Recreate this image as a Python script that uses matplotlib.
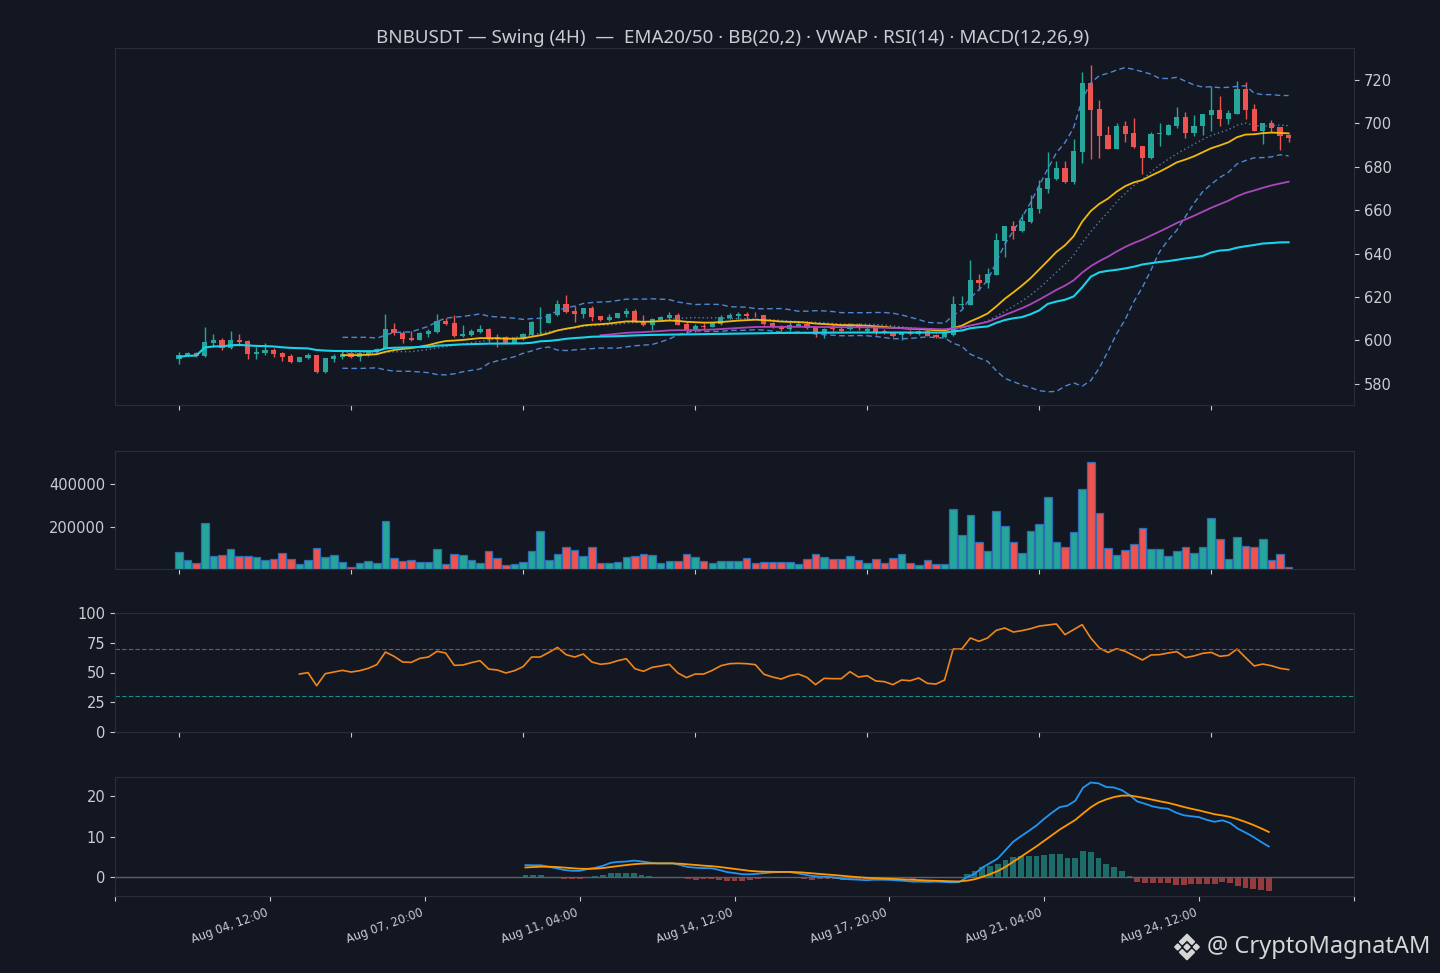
import numpy as np
import pandas as pd
import matplotlib
matplotlib.use("Agg")
import matplotlib.pyplot as plt
import matplotlib.dates as mdates
from matplotlib.patches import Polygon
from datetime import datetime, timedelta

# --- OHLCV (4H candles) ---
opens = [591.6, 593.2, 594.3, 592.9, 598.7, 600.2, 596.6, 600.2, 599.8, 594.0,
         594.3, 595.6, 594.3, 593.0, 590.1, 592.0, 593.3, 585.5, 591.3, 592.4,
         594.1, 592.4, 593.6, 594.7, 596.2, 605.3, 603.6, 601.2, 600.2, 603.0,
         603.9, 609.0, 608.1, 602.1, 602.5, 603.9, 605.3, 601.5, 601.5, 599.0,
         600.7, 602.5, 608.3, 608.2, 611.8, 616.8, 613.6, 612.2, 615.0, 611.3,
         609.5, 610.4, 612.4, 613.6, 609.0, 607.1, 609.5, 610.4, 611.8, 607.6,
         604.9, 606.7, 606.2, 607.6, 610.4, 611.3, 612.2, 611.9, 611.8, 608.1,
         606.7, 605.3, 606.7, 607.6, 606.2, 603.5, 606.2, 605.3, 605.3, 607.1,
         604.4, 606.2, 604.4, 603.5, 602.5, 603.9, 603.0, 604.4, 602.5, 601.6,
         602.5, 616.5, 616.4, 627.9, 626.5, 630.2, 645.8, 652.7, 650.4, 654.6,
         660.6, 669.8, 674.4, 679.5, 673.0, 686.8, 718.6, 706.6, 694.6, 688.2,
         698.8, 695.6, 689.6, 684.1, 695.0, 694.6, 698.8, 703.0, 695.6, 698.8,
         703.9, 706.2, 702.0, 704.3, 715.9, 706.6, 696.5, 700.2, 698.3, 694.7]
highs = [594.9, 594.7, 594.7, 606.2, 602.8, 601.0, 604.2, 602.8, 600.2, 597.2,
         598.7, 596.4, 594.7, 593.6, 592.6, 594.4, 593.5, 592.1, 593.6, 595.3,
         594.9, 594.9, 595.3, 596.7, 612.2, 607.9, 604.5, 604.5, 604.1, 605.1,
         612.2, 610.2, 611.6, 607.0, 605.1, 607.0, 605.8, 603.0, 602.1, 601.8,
         603.6, 609.0, 615.3, 612.8, 618.4, 621.0, 616.0, 615.1, 615.9, 611.4,
         612.1, 612.8, 615.0, 614.4, 611.8, 610.4, 611.3, 613.1, 612.7, 608.5,
         607.6, 608.1, 608.6, 611.8, 612.7, 613.1, 613.1, 613.0, 611.9, 608.5,
         607.1, 608.5, 608.5, 608.5, 606.3, 605.8, 607.6, 606.4, 608.1, 608.1,
         606.2, 606.7, 605.3, 604.1, 604.1, 604.9, 604.9, 604.9, 603.0, 604.4,
         620.5, 620.5, 637.1, 630.6, 633.4, 649.5, 652.8, 655.0, 658.3, 667.0,
         673.9, 686.8, 682.7, 682.7, 692.8, 723.7, 726.9, 710.8, 698.8, 700.2,
         701.1, 702.5, 689.7, 696.0, 700.2, 699.4, 707.6, 705.3, 703.9, 704.4,
         716.9, 712.6, 706.2, 719.5, 719.1, 708.9, 700.3, 701.6, 698.4, 694.8]
lows = [589.2, 592.7, 592.6, 592.6, 597.2, 595.5, 596.0, 597.5, 591.6, 591.6,
        593.5, 592.6, 590.7, 589.8, 589.9, 591.6, 585.2, 585.2, 590.3, 591.3,
        592.1, 590.6, 592.7, 594.4, 596.0, 602.5, 599.0, 599.9, 600.1, 601.8,
        603.3, 607.3, 601.8, 601.5, 602.1, 603.6, 599.5, 597.2, 598.2, 598.7,
        600.4, 602.2, 603.0, 607.9, 611.3, 612.5, 608.7, 610.2, 609.0, 609.0,
        609.0, 610.3, 610.8, 608.4, 606.7, 604.9, 609.0, 609.9, 607.0, 603.3,
        603.8, 604.9, 606.1, 607.1, 609.9, 609.9, 609.9, 610.7, 607.3, 605.9,
        604.4, 604.4, 606.4, 605.3, 601.5, 601.0, 604.5, 603.9, 604.9, 604.9,
        603.9, 602.5, 603.0, 601.8, 600.2, 602.7, 602.5, 602.0, 601.3, 601.3,
        602.2, 614.5, 616.3, 623.3, 624.2, 630.1, 638.5, 646.8, 650.0, 654.1,
        658.7, 667.9, 673.9, 672.5, 672.1, 681.8, 683.6, 684.1, 688.1, 688.1,
        691.4, 688.7, 676.7, 683.6, 689.6, 694.5, 697.9, 693.3, 694.2, 694.7,
        696.5, 698.8, 699.7, 704.2, 702.0, 696.4, 690.5, 696.0, 687.8, 691.4]
closes = [593.2, 594.3, 593.0, 599.3, 600.2, 596.6, 600.2, 599.2, 593.8, 594.9,
          595.6, 593.8, 592.4, 590.1, 592.4, 593.3, 585.5, 592.0, 592.9, 593.9,
          592.4, 594.1, 594.7, 596.2, 605.3, 603.3, 600.7, 600.2, 603.6, 604.5,
          609.0, 607.6, 602.1, 603.0, 604.4, 605.3, 600.7, 600.7, 598.7, 601.0,
          602.8, 608.5, 608.6, 612.2, 616.8, 613.1, 612.2, 615.0, 610.8, 609.5,
          610.8, 612.7, 613.6, 608.5, 607.1, 609.9, 610.8, 611.8, 607.1, 604.9,
          606.7, 606.2, 608.5, 610.8, 611.8, 612.2, 611.3, 611.6, 607.6, 606.2,
          605.3, 607.1, 607.6, 605.8, 603.9, 605.3, 605.3, 604.5, 607.1, 605.8,
          605.3, 603.9, 603.5, 602.2, 603.9, 603.0, 604.4, 602.1, 601.6, 603.5,
          616.8, 616.8, 627.9, 626.5, 630.6, 646.3, 652.7, 650.4, 655.0, 661.0,
          670.2, 674.9, 679.5, 673.0, 687.3, 718.6, 706.2, 694.2, 688.2, 698.8,
          695.1, 689.1, 684.1, 695.1, 695.3, 699.3, 703.0, 695.6, 698.8, 704.3,
          706.2, 702.0, 704.8, 715.9, 706.2, 696.5, 700.2, 697.9, 694.2, 693.3]
volumes = [79700, 42000, 28000, 215600, 61000, 65600, 93800, 61000, 61000, 56000,
           42000, 47000, 75000, 47000, 23000, 42000, 98000, 56000, 65600, 33000,
           9400, 28000, 37500, 28000, 225000, 51600, 37500, 42000, 33000, 33000,
           93800, 23000, 70000, 65600, 42000, 28000, 84000, 51600, 18800, 23000,
           33000, 84000, 178000, 42000, 70000, 103000, 89000, 61000, 103000, 28000,
           28000, 33000, 56000, 61000, 70000, 65600, 28000, 37500, 37500, 70000,
           56000, 37500, 28000, 37500, 37500, 37500, 51600, 28000, 33000, 33000,
           33000, 33000, 23000, 47000, 70000, 56000, 47000, 47000, 61000, 42000,
           28000, 47000, 28000, 51600, 70000, 28000, 18800, 42000, 23000, 23000,
           286000, 159000, 253000, 126600, 84000, 276600, 201600, 126600, 75000, 178000,
           211000, 342000, 126600, 103000, 173000, 380000, 506000, 262500, 98000, 65600,
           89000, 117000, 192000, 93800, 93800, 61000, 84000, 103000, 75000, 103000,
           239000, 140600, 47000, 150000, 108000, 103000, 140600, 42000, 70000, 9400]
# RSI(14), first value at candle 14
rsi_read = [48.7, 49.9, 38.9, 49.0, 50.4, 51.8, 50.4, 51.5, 53.5, 56.6,
            67.2, 63.6, 58.8, 58.5, 61.9, 63.0, 67.8, 66.4, 56.0, 56.3,
            58.3, 59.9, 52.9, 52.1, 49.6, 51.5, 54.9, 63.0, 63.0, 66.9,
            71.1, 65.0, 63.0, 65.5, 58.8, 56.9, 57.7, 59.9, 61.6, 53.2,
            51.0, 54.3, 55.5, 56.9, 49.6, 45.7, 48.7, 48.7, 51.8, 55.7,
            57.4, 57.7, 57.4, 56.6, 48.5, 46.2, 44.5, 47.3, 48.7, 45.9,
            39.8, 45.1, 44.8, 44.8, 50.7, 46.2, 47.3, 42.9, 42.3, 39.8,
            43.7, 43.1, 45.4, 40.9, 40.3, 43.7, 69.7, 69.7, 79.0, 76.2,
            79.0, 85.4, 87.4, 84.0, 85.2, 86.8, 89.0, 89.9, 90.8, 81.8,
            86.0, 90.2, 79.0, 70.6, 66.9, 70.0, 67.8, 64.1, 60.5, 64.7,
            65.0, 66.4, 67.5, 62.5, 63.9, 66.1, 66.9, 63.6, 64.4, 69.7,
            62.5, 55.5, 57.1, 55.7, 53.5, 52.4]
rsi_start = 14
first_candle = datetime(2025, 8, 4, 12, 0)

title = "BNBUSDT — Swing (4H)  —  EMA20/50 · BB(20,2) · VWAP · RSI(14) · MACD(12,26,9)"

BG = "#131722"
SPINE = "#2a2e39"
TXT = "#c9ccd3"
UP = "#26a69a"
DOWN = "#ef5350"

df = pd.DataFrame({"open": opens, "high": highs, "low": lows,
                   "close": closes, "volume": volumes})
n = len(df)
x = np.arange(n)
up = df["close"] >= df["open"]

# indicators
close = df["close"]
ema20 = close.ewm(span=20, adjust=False, min_periods=20).mean()
ema50 = close.ewm(span=50, adjust=False, min_periods=50).mean()
bb_mid = close.rolling(20).mean()
bb_std = close.rolling(20).std()
bb_up = bb_mid + 2 * bb_std
bb_lo = bb_mid - 2 * bb_std
tp = (df["high"] + df["low"] + df["close"]) / 3
vwap = (tp * df["volume"]).cumsum() / df["volume"].cumsum()
macd = close.ewm(span=12, adjust=False).mean() - close.ewm(span=26, adjust=False).mean()
signal = macd.ewm(span=9, adjust=False).mean()
hist = macd - signal
macd[:33] = np.nan
signal[:33] = np.nan
hist[:33] = np.nan

rsi = np.full(n, np.nan)
rsi[rsi_start:rsi_start + len(rsi_read)] = rsi_read

plt.rcParams["font.family"] = ["DejaVu Sans"]
fig = plt.figure(figsize=(14.4, 9.73), dpi=100, facecolor=BG)

W, H = 1440, 973
def box(top, bottom, left=115, right=1354):
    return [left / W, 1 - bottom / H, (right - left) / W, (bottom - top) / H]

ax_p = fig.add_axes(box(48, 405))
ax_v = fig.add_axes(box(451, 569))
ax_r = fig.add_axes(box(613, 732))
ax_m = fig.add_axes(box(777, 896))

for ax in (ax_p, ax_v, ax_r, ax_m):
    ax.set_facecolor(BG)
    for s in ax.spines.values():
        s.set_color(SPINE)
    ax.tick_params(colors=TXT, labelsize=10.5, length=3.5, width=0.8)

# --- price panel ---
ax_p.vlines(x, df["low"], df["high"], colors=np.where(up, UP, DOWN), linewidth=1)
body_lo = np.minimum(df["open"], df["close"])
body_h = np.maximum(np.abs(df["close"] - df["open"]), 0.35)
ax_p.bar(x, body_h, bottom=body_lo, width=0.6, color=np.where(up, UP, DOWN), linewidth=0)
ax_p.plot(x, bb_up, color="#4f86d0", lw=1, ls=(0, (4, 2.5)))
ax_p.plot(x, bb_lo, color="#4f86d0", lw=1, ls=(0, (4, 2.5)))
ax_p.plot(x, bb_mid, color="#5b79a8", lw=1, ls=(0, (1, 2)))
ax_p.plot(x, ema20, color="#f0b90b", lw=1.3)
ax_p.plot(x, ema50, color="#ab47bc", lw=1.3)
ax_p.plot(x, vwap, color="#1ad3ea", lw=1.5)
ax_p.set_ylim(570.3, 734.6)
ax_p.yaxis.tick_right()
ax_p.set_yticks(np.arange(580, 721, 20))

# --- volume ---
ax_v.bar(x, df["volume"], width=0.88, color=np.where(up, UP, DOWN),
         edgecolor="#2c6db5", linewidth=0.9)
ax_v.set_ylim(0, 558000)
ax_v.set_yticks([200000, 400000])
ax_v.set_yticklabels(["200000", "400000"])

# --- RSI ---
ax_r.plot(x, rsi, color="#f0861b", lw=1.2)
ax_r.axhline(70, color="#9b4b4b", lw=0.8, ls=(0, (4, 2)))
ax_r.axhline(30, color="#1f8a86", lw=0.8, ls=(0, (4, 2)))
ax_r.set_ylim(0, 100)
ax_r.set_yticks([0, 25, 50, 75, 100])

for ax in (ax_p, ax_v, ax_r):
    ax.set_xlim(-7.44, 136.6)
    ax.set_xticks(np.arange(0, 121, 20))
    ax.set_xticklabels([])

# --- MACD on a date axis ---
dates = [first_candle + timedelta(hours=4 * i) for i in range(n)]
dnum = mdates.date2num(dates)
hist_cols = np.where(hist >= 0, UP, DOWN)
ax_m.bar(dnum, hist.fillna(0), width=4 / 24 * 0.75, color=hist_cols, alpha=0.6, linewidth=0)
ax_m.axhline(0, color="#5d606b", lw=1)
ax_m.plot(dnum, macd, color="#2196f3", lw=1.3)
ax_m.plot(dnum, signal, color="#ff9800", lw=1.3)
ax_m.set_ylim(-4.75, 24.8)
ax_m.set_yticks([0, 10, 20])
x0 = first_candle - timedelta(hours=80)
tick_dates = [x0 + timedelta(hours=80 * k) for k in range(9)]
ax_m.set_xlim(mdates.date2num(tick_dates[0]), mdates.date2num(tick_dates[-1]))
ax_m.set_xticks(mdates.date2num(tick_dates))
tick_labels = [d.strftime("%b %d, %H:%M") for d in tick_dates]
tick_labels[0] = ""
tick_labels[-1] = ""
ax_m.set_xticklabels(tick_labels, rotation=20, ha="right", fontsize=8.3)

fig.text(733 / W, 1 - 38 / H, title, ha="center", va="center", fontsize=13.5,
         color=TXT, family=["Noto Sans", "DejaVu Sans"])

# --- watermark ---
fig.text(1430 / W, 1 - 947 / H, "@ CryptoMagnatAM", ha="right", va="center",
         fontsize=17, color="#d6d6d6", family=["Noto Sans", "DejaVu Sans"])
lg = fig.add_axes([1172 / W, 1 - 962 / H, 30 / W, 30 / H])
lg.set_xlim(-1, 1)
lg.set_ylim(-1, 1)
lg.axis("off")
def diamond(cx, cy, r):
    return [(cx, cy + r), (cx + r, cy), (cx, cy - r), (cx - r, cy)]
for cx, cy in [(0, 0), (-0.62, 0), (0.62, 0)]:
    lg.add_patch(Polygon(diamond(cx, cy, 0.2), color="#d6d6d6"))
for s in (1, -1):
    lg.add_patch(Polygon([(0, 0.85 * s), (0.5, 0.35 * s), (0.32, 0.17 * s),
                          (0, 0.49 * s), (-0.32, 0.17 * s), (-0.5, 0.35 * s)],
                         color="#d6d6d6"))

fig.savefig("out.png", dpi=100, facecolor=BG)
